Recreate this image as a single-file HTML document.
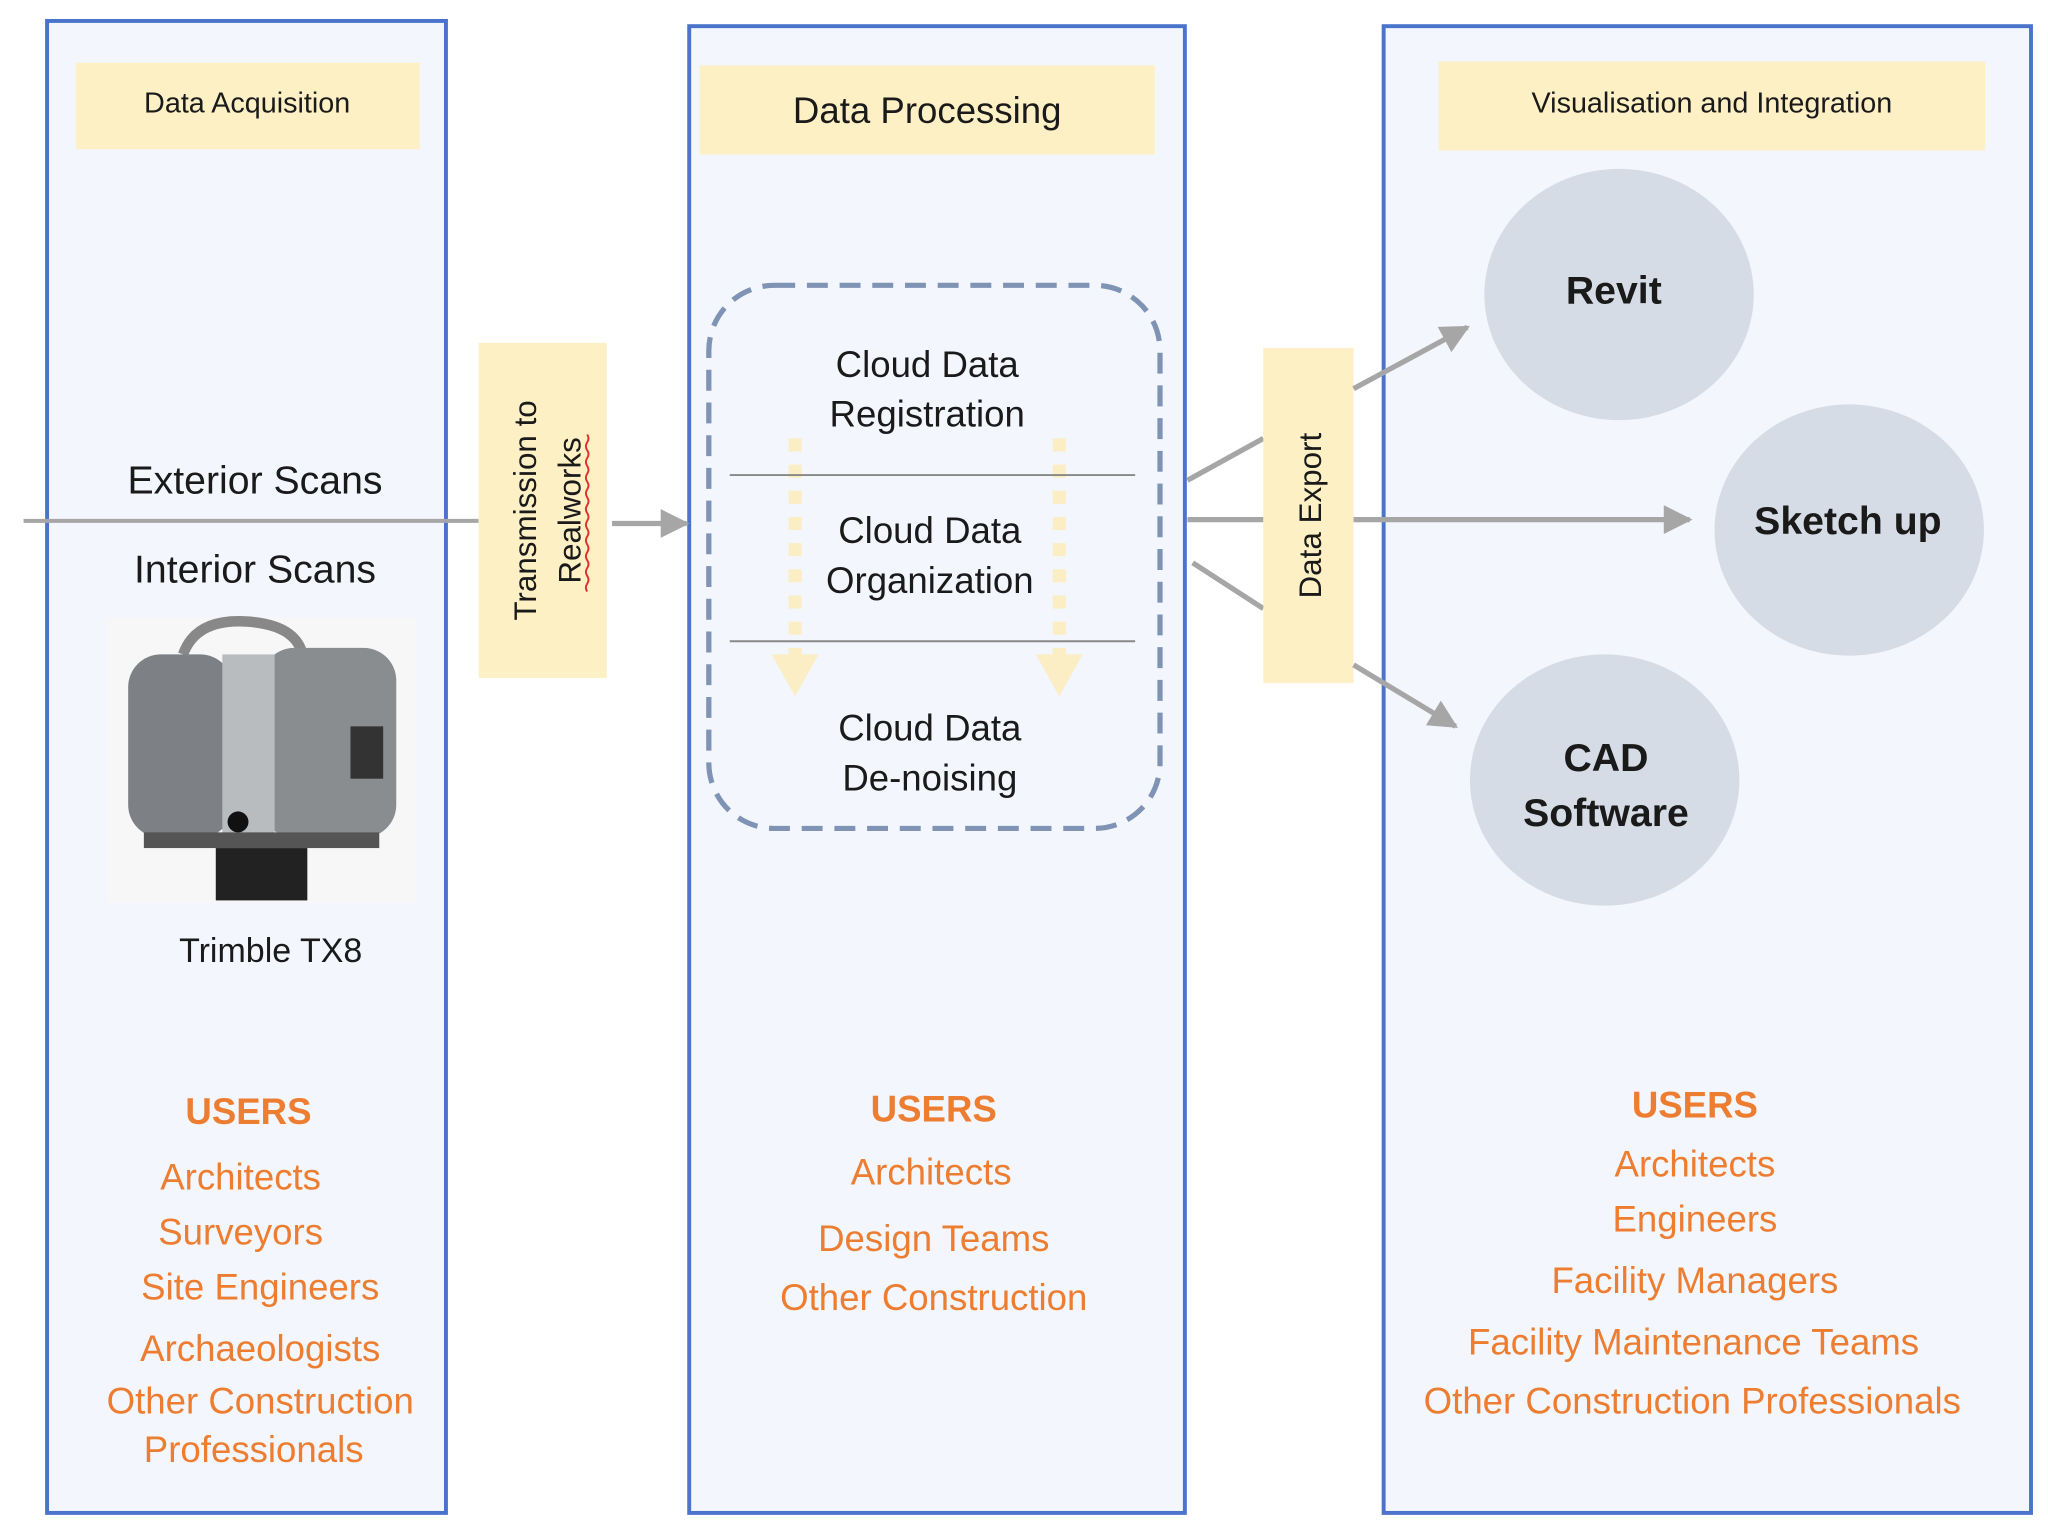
<!DOCTYPE html>
<html><head><meta charset="utf-8"><style>
html,body{margin:0;padding:0;background:#fff;}
svg{display:block;}
text{font-family:"Liberation Sans","DejaVu Sans",sans-serif;}
.t{fill:#1a1a1a;text-anchor:middle;}
.o{fill:#ed7d31;text-anchor:middle;font-size:28px;}
.ob{fill:#ed7d31;text-anchor:middle;font-size:28px;font-weight:bold;}
.panel{fill:#f3f6fc;stroke:#4a73cc;stroke-width:3;}
.hdr{fill:#fdf0c4;}
</style></head><body>
<svg width="2048" height="1526" viewBox="0 0 1566 1166" preserveAspectRatio="none" xmlns="http://www.w3.org/2000/svg">
<defs>
<marker id="ah" markerWidth="10" markerHeight="10" refX="8" refY="5" orient="auto" markerUnits="userSpaceOnUse">
<path d="M0,0 L10,5 L0,10 z" fill="#a6a6a6" transform="scale(1)"/></marker>
<marker id="ah2" viewBox="0 0 10 10" markerWidth="26" markerHeight="22" refX="9" refY="5" orient="auto" markerUnits="userSpaceOnUse">
<path d="M0,0 L10,5 L0,10 z" fill="#a6a6a6"/></marker>
</defs>
<rect width="1566" height="1166" fill="#fff"/>
<!-- panels -->
<rect class="panel" x="36" y="16" width="305" height="1140"/>
<rect class="panel" x="527" y="20" width="379" height="1136"/>
<rect class="panel" x="1058" y="20" width="495" height="1136"/>
<rect class="hdr" x="58" y="48" width="263" height="66"/>
<text class="t" x="189" y="86" font-size="22">Data Acquisition</text>
<rect class="hdr" x="535" y="50" width="348" height="68"/>
<text class="t" x="709" y="94" font-size="28">Data Processing</text>
<rect class="hdr" x="1100" y="47" width="418" height="68"/>
<text class="t" x="1309" y="86" font-size="22">Visualisation and Integration</text>

<!-- left -->
<line x1="18" y1="398" x2="366" y2="398" stroke="#a6a6a6" stroke-width="3"/>
<text class="t" x="195" y="377" font-size="30">Exterior Scans</text>
<text class="t" x="195" y="445" font-size="30">Interior Scans</text>
<rect x="82" y="472" width="236" height="218" fill="#f7f7f7"/>
<g>
<path d="M140,500 Q150,472 190,475 Q230,478 232,505" fill="none" stroke="#888" stroke-width="8"/>
<rect x="98" y="500" width="80" height="140" rx="25" fill="#7d8185"/>
<rect x="200" y="495" width="103" height="145" rx="25" fill="#8a8d90"/>
<rect x="170" y="500" width="40" height="140" fill="#b9bcbe"/>
<rect x="110" y="636" width="180" height="12" fill="#555"/>
<rect x="165" y="648" width="70" height="40" fill="#222"/>
<circle cx="182" cy="628" r="8" fill="#111"/>
<rect x="268" y="555" width="25" height="40" fill="#333"/>
</g>
<text class="t" x="207" y="735" font-size="26">Trimble TX8</text>
<text class="ob" x="190" y="859">USERS</text>
<text class="o" x="184" y="909">Architects</text>
<text class="o" x="184" y="951">Surveyors</text>
<text class="o" x="199" y="993">Site Engineers</text>
<text class="o" x="199" y="1040">Archaeologists</text>
<text class="o" x="199" y="1080">Other Construction</text>
<text class="o" x="194" y="1117">Professionals</text>

<!-- transmission -->
<rect class="hdr" x="366" y="262" width="98" height="256"/>
<g transform="translate(410,390) rotate(-90)"><text class="t" x="0" y="0" font-size="24">Transmission to</text></g>
<g transform="translate(444,390) rotate(-90)"><text class="t" x="0" y="0" font-size="24">Realworks</text></g>
<path d="M449,332 q2,3 0,6 q-2,3 0,6 q2,3 0,6 q-2,3 0,6 q2,3 0,6 q-2,3 0,6 q2,3 0,6 q-2,3 0,6 q2,3 0,6 q-2,3 0,6 q2,3 0,6 q-2,3 0,6 q2,3 0,6 q-2,3 0,6 q2,3 0,6 q-2,3 0,6 q2,3 0,6 q-2,3 0,6 q2,3 0,6 q-2,3 0,6" fill="none" stroke="#e03030" stroke-width="1.5"/>
<line x1="468" y1="400" x2="525" y2="400" stroke="#a6a6a6" stroke-width="4" marker-end="url(#ah2)"/>

<!-- middle -->
<line x1="608" y1="335" x2="608" y2="505" stroke="#fbeec4" stroke-width="10" stroke-dasharray="10,10"/>
<path d="M590,500 L626,500 L608,532 z" fill="#fbeec4"/>
<line x1="810" y1="335" x2="810" y2="505" stroke="#fbeec4" stroke-width="10" stroke-dasharray="10,10"/>
<path d="M792,500 L828,500 L810,532 z" fill="#fbeec4"/>
<rect x="542" y="218" width="345" height="415" rx="50" fill="none" stroke="#7f93b5" stroke-width="4" stroke-dasharray="16,9"/>
<line x1="558" y1="363" x2="868" y2="363" stroke="#888" stroke-width="1.5"/>
<line x1="558" y1="490" x2="868" y2="490" stroke="#888" stroke-width="1.5"/>
<text class="t" x="709" y="288" font-size="28">Cloud Data</text>
<text class="t" x="709" y="326" font-size="28">Registration</text>
<text class="t" x="711" y="415" font-size="28">Cloud Data</text>
<text class="t" x="711" y="453" font-size="28">Organization</text>
<text class="t" x="711" y="566" font-size="28">Cloud Data</text>
<text class="t" x="711" y="604" font-size="28">De-noising</text>
<text class="ob" x="714" y="857">USERS</text>
<text class="o" x="712" y="905">Architects</text>
<text class="o" x="714" y="956">Design Teams</text>
<text class="o" x="714" y="1001">Other Construction</text>

<!-- connectors to export -->
<line x1="908" y1="367" x2="966" y2="335" stroke="#a6a6a6" stroke-width="4"/>
<line x1="908" y1="397" x2="966" y2="397" stroke="#a6a6a6" stroke-width="4"/>
<line x1="912" y1="430" x2="966" y2="465" stroke="#a6a6a6" stroke-width="4"/>
<rect class="hdr" x="966" y="266" width="69" height="256"/>
<g transform="translate(1010,394) rotate(-90)"><text class="t" x="0" y="0" font-size="24">Data Export</text></g>
<line x1="1035" y1="297" x2="1122" y2="250" stroke="#a6a6a6" stroke-width="4" marker-end="url(#ah2)"/>
<line x1="1035" y1="397" x2="1292" y2="397" stroke="#a6a6a6" stroke-width="4" marker-end="url(#ah2)"/>
<line x1="1035" y1="508" x2="1113" y2="555" stroke="#a6a6a6" stroke-width="4" marker-end="url(#ah2)"/>

<!-- circles -->
<ellipse cx="1238" cy="225" rx="103" ry="96" fill="#d6dce5"/>
<text class="t" x="1234" y="232" font-size="30" font-weight="bold" fill="#222">Revit</text>
<ellipse cx="1414" cy="405" rx="103" ry="96" fill="#d6dce5"/>
<text class="t" x="1413" y="408" font-size="30" font-weight="bold">Sketch up</text>
<ellipse cx="1227" cy="596" rx="103" ry="96" fill="#d6dce5"/>
<text class="t" x="1228" y="589" font-size="30" font-weight="bold">CAD</text>
<text class="t" x="1228" y="631" font-size="30" font-weight="bold">Software</text>

<text class="ob" x="1296" y="854">USERS</text>
<text class="o" x="1296" y="899">Architects</text>
<text class="o" x="1296" y="941">Engineers</text>
<text class="o" x="1296" y="988">Facility Managers</text>
<text class="o" x="1295" y="1035">Facility Maintenance Teams</text>
<text class="o" x="1294" y="1080">Other Construction Professionals</text>
</svg>
</body></html>
